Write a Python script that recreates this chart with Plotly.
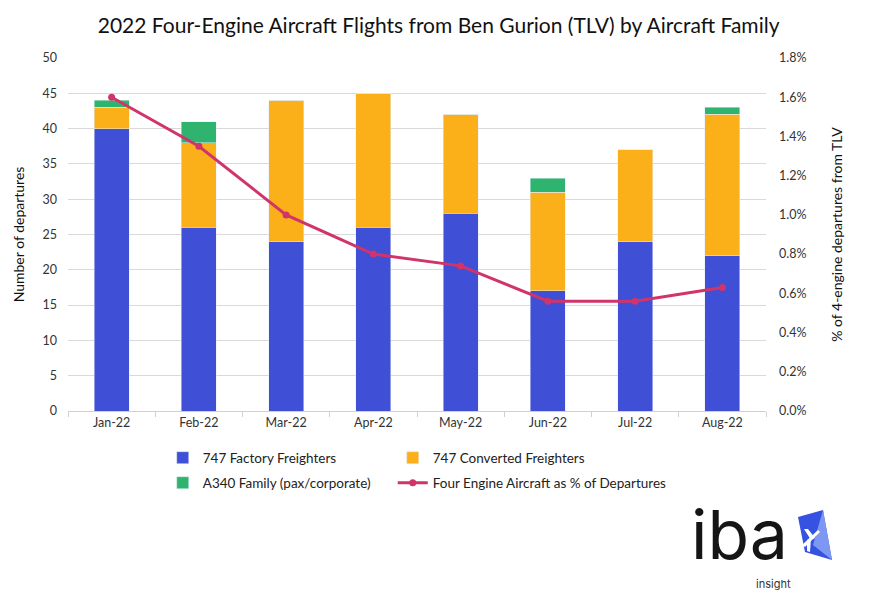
import plotly.graph_objects as go

months = ["Jan-22", "Feb-22", "Mar-22", "Apr-22", "May-22", "Jun-22", "Jul-22", "Aug-22"]
factory = [40, 26, 24, 26, 28, 17, 24, 22]
converted = [3, 12, 20, 19, 14, 14, 13, 20]
a340 = [1, 3, 0, 0, 0, 2, 0, 1]
pct = [0.0160, 0.0135, 0.0100, 0.0080, 0.0074, 0.0056, 0.0056, 0.0063]

FONT = "Lato"
BLUE = "#3F4FD6"
ORANGE = "#FBB01A"
GREEN = "#2EB46F"
PINK = "#D1346A"

fig = go.Figure()
fig.add_bar(x=months, y=factory, name="747 Factory Freighters", marker_color=BLUE, width=0.4,
            legend="legend", showlegend=True)
fig.add_bar(x=months, y=converted, name="747 Converted Freighters", marker_color=ORANGE, width=0.4,
            legend="legend2", showlegend=True)
fig.add_bar(x=months, y=a340, name="A340 Family (pax/corporate)", marker_color=GREEN, width=0.4,
            legend="legend3", showlegend=True)
fig.add_scatter(x=months, y=pct, name="Four Engine Aircraft as % of Departures", mode="lines+markers",
                line=dict(color=PINK, width=3), marker=dict(size=7, color=PINK), yaxis="y2",
                legend="legend4", showlegend=True)

legend_common = dict(orientation="h", xanchor="left", yanchor="top",
                     font=dict(family=FONT, size=13.5, color="#222"), bgcolor="rgba(0,0,0,0)", itemwidth=30)

def px(x):
    return (x - 68) / 698

def py(y):
    return (411 - y) / 353

c1 = 0.13 + 4 / 698
c2 = c1 + 230 / 698
r1 = -0.089
r2 = -0.16

fig.update_layout(
    width=872, height=603,
    margin=dict(l=68, r=106, t=58, b=192),
    barmode="stack",
    showlegend=True,
    plot_bgcolor="white", paper_bgcolor="white",
    title=dict(text="2022 Four-Engine Aircraft Flights from Ben Gurion (TLV) by Aircraft Family",
               x=0.503, xref="container", xanchor="center", y=0.958, yanchor="middle",
               font=dict(family=FONT, size=21, color="#111")),
    font=dict(family=FONT, size=12, color="#333"),
    xaxis=dict(type="category", showgrid=False, showline=True, linecolor="#d0d0d0", linewidth=1,
               ticks="outside", tickson="boundaries", ticklen=5, tickcolor="#d0d0d0",
               tickfont=dict(family=FONT, size=12.5, color="#333")),
    yaxis=dict(range=[0, 50], dtick=5, showgrid=True, gridcolor="#d9d9d9", gridwidth=1,
               zeroline=False, showline=False, ticks="", ticklabelstandoff=10,
               title=dict(text="Number of departures", font=dict(family=FONT, size=14, color="#111"), standoff=14),
               tickfont=dict(family=FONT, size=12.5, color="#333")),
    yaxis2=dict(range=[0, 0.018], dtick=0.002, tickformat=".1%", overlaying="y", side="right",
                showgrid=False, zeroline=False, showline=False, ticks="", ticklabelstandoff=12,
                title=dict(text="% of 4-engine departures from TLV", font=dict(family=FONT, size=14, color="#111"), standoff=26),
                tickfont=dict(family=FONT, size=12.5, color="#333")),
    legend=dict(x=c1, y=r1, **legend_common),
    legend2=dict(x=c2, y=r1, **legend_common),
    legend3=dict(x=c1, y=r2, **legend_common),
    legend4=dict(x=c2, y=r2, **legend_common),
)

# logo: iba insight
fig.add_annotation(text="iba", xref="paper", yref="paper", x=px(739), y=py(534),
                   xanchor="center", yanchor="middle", showarrow=False,
                   font=dict(family="Inter", size=68, color="#151515"))
fig.add_annotation(text="insight", xref="paper", yref="paper", x=px(773), y=py(584),
                   xanchor="center", yanchor="middle", showarrow=False,
                   font=dict(family="Inter", size=11, color="#333"))
# icon: dark left part, light right part, white plane
fig.add_shape(type="path", xref="paper", yref="paper",
              path="M {} {} L {} {} L {} {} L {} {} Z".format(px(798), py(517), px(823), py(510),
                                                          px(832), py(560), px(805), py(552)),
              fillcolor="#3552E0", line=dict(width=0))
fig.add_shape(type="path", xref="paper", yref="paper",
              path="M {} {} L {} {} L {} {} Z".format(px(823), py(510), px(832), py(560), px(813), py(545)),
              fillcolor="#7D98F2", line=dict(width=0))
# plane silhouette (fuselage + wings)
fig.add_shape(type="path", xref="paper", yref="paper",
              path="M {} {} L {} {} L {} {} L {} {} Z".format(px(802), py(545), px(818), py(530),
                                                          px(820), py(532), px(805), py(547)),
              fillcolor="white", line=dict(width=0))
fig.add_shape(type="path", xref="paper", yref="paper",
              path="M {} {} L {} {} L {} {} L {} {} Z".format(px(804), py(529), px(808), py(529),
                                                          px(815), py(538), px(811), py(540)),
              fillcolor="white", line=dict(width=0))
fig.add_shape(type="path", xref="paper", yref="paper",
              path="M {} {} L {} {} L {} {} L {} {} Z".format(px(807), py(540), px(811), py(538),
                                                          px(810), py(552), px(807), py(551)),
              fillcolor="white", line=dict(width=0))

fig.write_html("out.html")
